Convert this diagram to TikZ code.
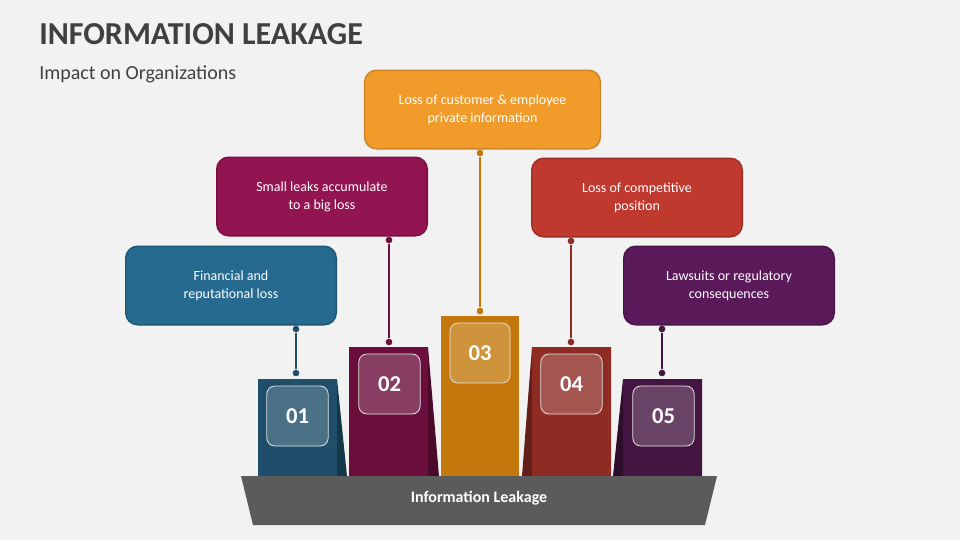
\documentclass[tikz,border=0pt]{standalone}
\usepackage{fontspec}
\setmainfont{Carlito}
\begin{document}
\begin{tikzpicture}[x=0.75pt,y=-0.75pt,
  box/.style={rounded corners=9pt,line width=1pt,text=white,align=center,font=\fontsize{10.5}{13.5}\selectfont},
  num/.style={rounded corners=6pt,draw=white!80!gray,line width=0.6pt,fill=white,fill opacity=0.2,text opacity=1,text=white,font=\bfseries\fontsize{17}{17}\selectfont},
  dot/.style={circle,inner sep=0pt,minimum size=5pt}]
\definecolor{bg}{HTML}{F2F2F2}
\definecolor{cA}{HTML}{276A90}\definecolor{bA}{HTML}{1F4E6A}\definecolor{sA}{HTML}{15374A}
\definecolor{cB}{HTML}{921450}\definecolor{bB}{HTML}{6B0E3C}\definecolor{sB}{HTML}{4C0A2B}
\definecolor{cC}{HTML}{F09B2A}\definecolor{bC}{HTML}{C4780C}
\definecolor{cD}{HTML}{C0392F}\definecolor{bD}{HTML}{8E2B23}\definecolor{sD}{HTML}{641E19}
\definecolor{cE}{HTML}{5A1A5A}\definecolor{bE}{HTML}{431540}\definecolor{sE}{HTML}{2E0E2C}
\definecolor{base}{HTML}{5B5B5B}
\fill[bg] (0,0) rectangle (960,540);
\useasboundingbox (0,0) rectangle (960,540);
\node[anchor=west,font=\bfseries\fontsize{24}{24}\selectfont,text=black!75,inner sep=0] (title) at (39,34) {INFORMATION LEAKAGE};
\node[anchor=west,font=\fontsize{15}{15}\selectfont,text=black!75,inner sep=0] (sub) at (39,74) {Impact on Organizations};
% bars
\fill[sA] (337,379) -- (347,476) -- (258,476) -- (258,379) -- cycle;
\fill[bA] (258,379) rectangle (337,476);
\fill[sB] (428,347) -- (439,476) -- (349,476) -- (349,347) -- cycle;
\fill[bB] (349,347) rectangle (428,476);
\fill[bC] (441,316) rectangle (519,476);
\fill[sD] (532,347) -- (522,476) -- (611,476) -- (611,347) -- cycle;
\fill[bD] (532,347) rectangle (611,476);
\fill[sE] (623,379) -- (613,476) -- (702,476) -- (702,379) -- cycle;
\fill[bE] (623,379) rectangle (702,476);
\node[num,minimum width=46pt,minimum height=45pt] (n1) at (297.5,416) {01};
\node[num,minimum width=46pt,minimum height=45pt] (n2) at (389.5,384) {02};
\node[num,minimum width=45pt,minimum height=45pt] (n3) at (480,353) {03};
\node[num,minimum width=46pt,minimum height=45pt] (n4) at (571.5,384) {04};
\node[num,minimum width=46pt,minimum height=45pt] (n5) at (663.5,416) {05};
% base
\fill[base] (241,476) -- (717,476) -- (705,525) -- (253,525) -- cycle;
\node[text=white,font=\bfseries\fontsize{12}{12}\selectfont] (lbl) at (479,498) {Information Leakage};
% boxes
\node[box,fill=cA,draw=cA!80!black,minimum width=158pt,minimum height=59pt] (b1) at (231,285.5) {Financial and\\reputational loss};
\node[box,fill=cB,draw=cB!80!black,minimum width=158pt,minimum height=59pt] (b2) at (322,196.5) {Small leaks accumulate\\to a big loss};
\node[box,fill=cC,draw=cC!85!black,minimum width=177pt,minimum height=59pt] (b3) at (482.5,109.5) {Loss of customer \& employee\\private information};
\node[box,fill=cD,draw=cD!80!black,minimum width=158pt,minimum height=59pt] (b4) at (637,197.5) {Loss of competitive\\position};
\node[box,fill=cE,draw=cE!80!black,minimum width=158pt,minimum height=59pt] (b5) at (729,285.5) {Lawsuits or regulatory\\consequences};
% connectors
\foreach \x/\ya/\yb/\c/\i in {296/329/373/bA/1,389/240/342/bB/2,480/153/311/bC/3,571/241/342/bD/4,662/329/373/bE/5}{
  \node[dot,fill=\c] (t\i) at (\x,\ya) {};
  \node[dot,fill=\c] (u\i) at (\x,\yb) {};
  \draw[\c,line width=1.5pt] (t\i) -- (u\i);
}
\end{tikzpicture}
\end{document}
